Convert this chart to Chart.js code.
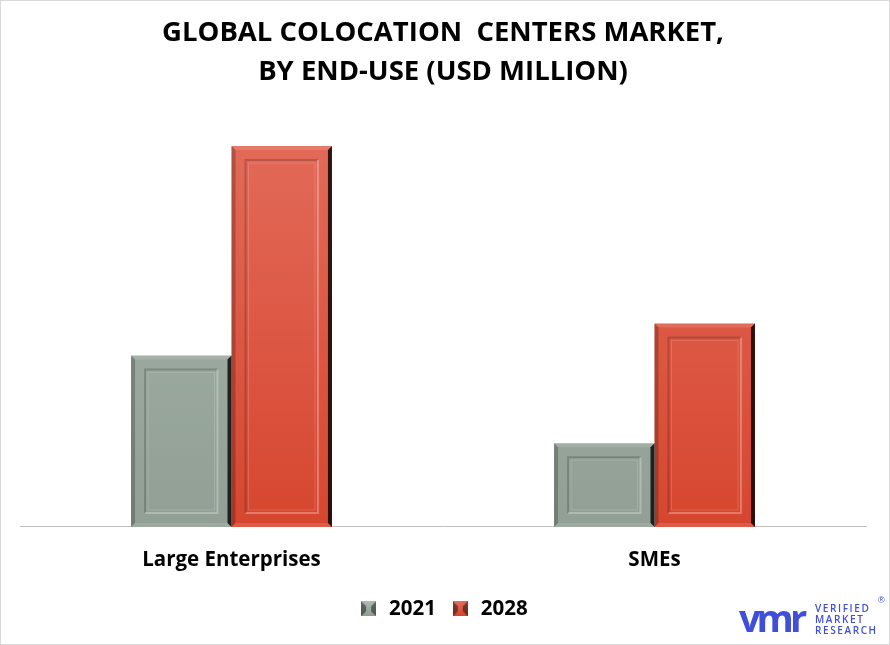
<!DOCTYPE html>
<html>
<head>
<meta charset="utf-8">
<script src="https://cdn.jsdelivr.net/npm/chart.js@4.4.1/dist/chart.umd.min.js"></script>
<style>
  html, body { margin: 0; padding: 0; background: #fff; }
  #wrap { position: relative; width: 888px; height: 643px; border: 1px solid #d9d9d9; }
  #logo { position: absolute; left: 738px; top: 598px; width: 145px; height: 40px; }
  #logo .vm { position: absolute; left: 0; top: -8px; font: 700 38px "Open Sans", sans-serif; color: #3f4fd9; letter-spacing: -4px; }
  #logo .txt { position: absolute; left: 76px; top: 4px; font: 600 10px "Open Sans", sans-serif; color: #3f4fd9; line-height: 11px; letter-spacing: 1.6px; }
  #logo .reg { position: absolute; left: 139px; top: -4px; font: 9px sans-serif; color: #3f4fd9; }
</style>
</head>
<body>
<div id="wrap">
  <canvas id="endUseChart" width="888" height="643"></canvas>
  <div id="logo">
    <div class="vm">vmr</div>
    <div class="txt">VERIFIED<br>MARKET<br>RESEARCH</div>
    <div class="reg">®</div>
  </div>
</div>
<script>
const categories = ['Large Enterprises', 'SMEs'];
const years = ['2021', '2028'];
const values2021 = [172, 84];
const values2028 = [382, 204];

// little bevelled squares for the legend
function legendBox(top, bottom) {
    const c = document.createElement('canvas');
    c.width = 15; c.height = 15;
    const g = c.getContext('2d');
    const gr = g.createLinearGradient(0, 0, 0, 15);
    gr.addColorStop(0, top); gr.addColorStop(1, bottom);
    g.fillStyle = gr; g.fillRect(0, 0, 15, 15);
    g.fillStyle = 'rgba(0,0,0,0.45)';
    g.beginPath(); g.moveTo(0, 0); g.lineTo(5, 5); g.lineTo(5, 10); g.lineTo(0, 15); g.fill();
    g.beginPath(); g.moveTo(15, 0); g.lineTo(10, 5); g.lineTo(10, 10); g.lineTo(15, 15); g.fill();
    return c;
}
const boxGray = legendBox('#aebdb2', '#8e9d93');
const boxRed = legendBox('#e4705f', '#d2432c');

function barGradient(ctx, top, bottom) {
    const area = ctx.chart.chartArea;
    if (!area) return bottom;
    const gr = ctx.chart.ctx.createLinearGradient(0, area.top, 0, area.bottom);
    gr.addColorStop(0, top);
    gr.addColorStop(1, bottom);
    return gr;
}

// bevel decoration drawn over each bar element
const bevelPlugin = {
    id: 'bevel',
    afterDatasetsDraw(chart) {
        const c = chart.ctx;
        chart.data.datasets.forEach((ds, i) => {
            chart.getDatasetMeta(i).data.forEach(bar => {
                const w = bar.width;
                const l = bar.x - w / 2, r = bar.x + w / 2;
                const t = bar.y, b = bar.base;
                const e = 4;
                c.save();
                // top edge
                c.fillStyle = 'rgba(255,255,255,0.12)';
                c.beginPath(); c.moveTo(l, t); c.lineTo(r, t); c.lineTo(r - e, t + e); c.lineTo(l + e, t + e); c.fill();
                // left edge
                c.fillStyle = 'rgba(0,0,0,0.22)';
                c.beginPath(); c.moveTo(l, t); c.lineTo(l + e, t + e); c.lineTo(l + e, b - e); c.lineTo(l, b); c.fill();
                // right edge dark
                c.fillStyle = 'rgba(0,0,0,0.8)';
                c.beginPath(); c.moveTo(r, t); c.lineTo(r, b); c.lineTo(r - e, b - e); c.lineTo(r - e, t + e); c.fill();
                // bottom edge
                c.fillStyle = 'rgba(255,255,255,0.12)';
                c.beginPath(); c.moveTo(l, b); c.lineTo(r, b); c.lineTo(r - e, b - e); c.lineTo(l + e, b - e); c.fill();
                // inner panel frame
                const il = l + 14, ir = r - 14, it = t + 14, ib = b - 14;
                if (ib > it) {
                    c.lineWidth = 2;
                    c.strokeStyle = 'rgba(0,0,0,0.18)';
                    c.beginPath(); c.moveTo(il, ib); c.lineTo(il, it); c.lineTo(ir, it); c.stroke();
                    c.strokeStyle = 'rgba(255,255,255,0.28)';
                    c.beginPath(); c.moveTo(ir, it); c.lineTo(ir, ib); c.lineTo(il, ib); c.stroke();
                    c.lineWidth = 1;
                    c.strokeStyle = 'rgba(255,255,255,0.15)';
                    c.strokeRect(il + 3, it + 3, ir - il - 6, ib - it - 6);
                }
                c.restore();
            });
        });
    }
};

const ctx = document.getElementById('endUseChart').getContext('2d');

const endUseChart = new Chart(ctx, {
    type: 'bar',
    data: {
        labels: categories,
        datasets: [{
            label: years[0],
            data: values2021,
            backgroundColor: c => barGradient(c, '#a6b5aa', '#919f95'),
            pointStyle: boxGray,
            borderWidth: 0
        },
        {
            label: years[1],
            data: values2028,
            backgroundColor: c => barGradient(c, '#e36b5a', '#d6462f'),
            pointStyle: boxRed,
            borderWidth: 0
        }]
    },
    options: {
        responsive: false,
        animation: false,
        devicePixelRatio: 1,
        layout: { padding: { left: 19, right: 23, top: 0, bottom: 15 } },
        categoryPercentage: 0.475,
        barPercentage: 1,
        scales: {
            y: {
                display: false,
                beginAtZero: true,
                max: 400
            },
            x: {
                grid: { display: false, drawTicks: false },
                border: { display: true, color: '#bfbfbf', width: 1 },
                ticks: {
                    color: '#000',
                    padding: 21,
                    font: { family: 'Open Sans', size: 20.5, weight: 'bold' }
                },
                afterFit(axis) { axis.height -= 9; }
            }
        },
        plugins: {
            title: {
                display: true,
                text: ['GLOBAL COLOCATION  CENTERS MARKET,', 'BY END-USE (USD MILLION)'],
                color: '#000',
                font: { family: 'Open Sans', size: 27.5, weight: 'bold', lineHeight: 1.42 },
                padding: { top: 13, bottom: 36 }
            },
            legend: {
                display: true,
                position: 'bottom',
                labels: {
                    usePointStyle: true,
                    color: '#000',
                    padding: 14,
                    font: { family: 'Open Sans', size: 20.5, weight: 'bold' },
                    generateLabels(chart) {
                        return chart.data.datasets.map((ds, i) => ({
                            text: ds.label,
                            pointStyle: ds.pointStyle,
                            fontColor: '#000',
                            datasetIndex: i,
                            hidden: false,
                            lineWidth: 0
                        }));
                    }
                }
            },
            tooltip: { enabled: false }
        }
    },
    plugins: [bevelPlugin]
});
</script>
</body>
</html>
